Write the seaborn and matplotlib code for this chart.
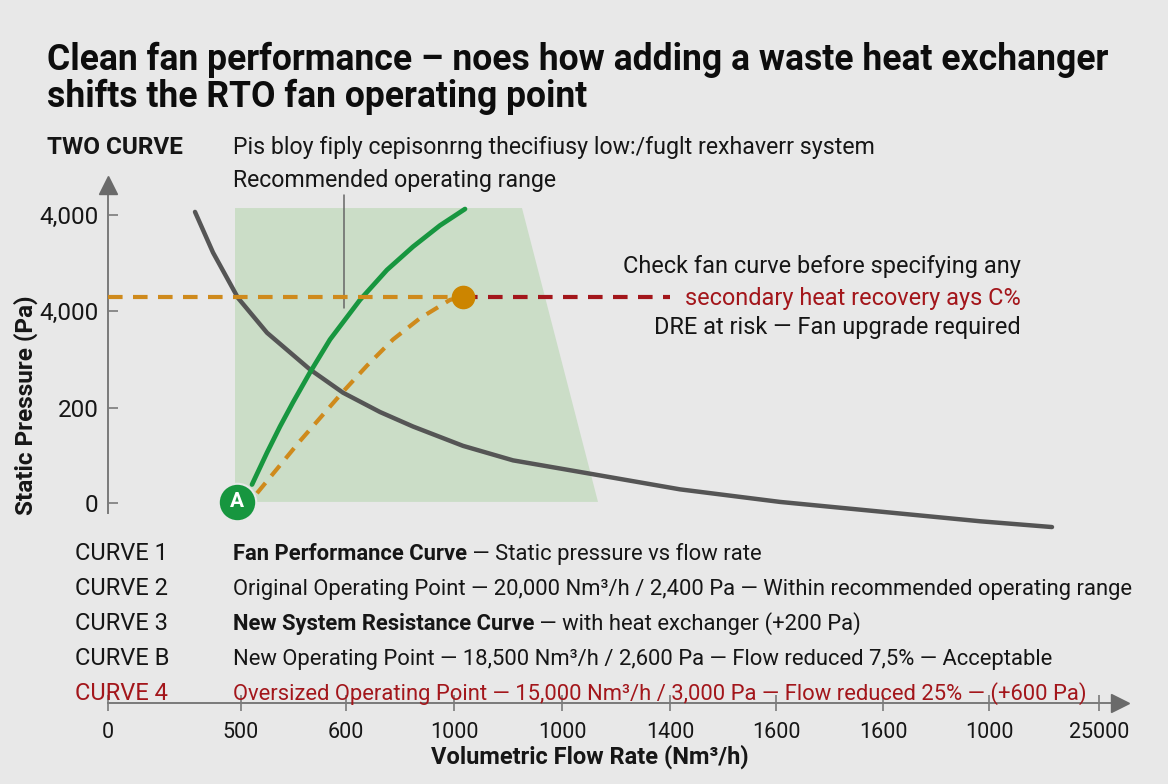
import matplotlib
matplotlib.use("Agg")
import matplotlib.pyplot as plt
import seaborn as sns
import numpy as np

# ---------------- data ----------------
x_tick_pos = [0, 1.33, 2.38, 3.46, 4.54, 5.62, 6.68, 7.75, 8.81, 9.91]
x_tick_labels = ["0", "500", "600", "1000", "1000", "1400", "1600", "1600", "1000", "25000"]
y_tick_pos = [0, 0.98, 1.99, 2.98]
y_tick_labels = ["0", "200", "4,000", "4,000"]

fan_x = [0.87, 1.05, 1.30, 1.59, 2.02, 2.35, 2.72, 3.05, 3.55, 4.05, 4.72, 5.22,
         5.72, 6.72, 7.72, 8.72, 9.44]
fan_y = [3.01, 2.59, 2.12, 1.76, 1.38, 1.14, 0.94, 0.79, 0.59, 0.44, 0.32, 0.23,
         0.14, 0.01, -0.09, -0.19, -0.25]

sys_x = [1.44, 1.59, 1.72, 1.85, 2.02, 2.22, 2.52, 2.79, 3.05, 3.32, 3.57]
sys_y = [0.19, 0.52, 0.79, 1.04, 1.35, 1.69, 2.10, 2.41, 2.65, 2.87, 3.04]

new_x = [1.49, 1.92, 2.35, 2.59, 2.85, 3.12, 3.42, 3.55]
new_y = [0.10, 0.64, 1.15, 1.42, 1.69, 1.91, 2.10, 2.13]

level_y = 2.13
orange_span = [0, 3.55]
red_span = [3.55, 5.62]
op_point = (3.55, 2.13)
a_point = (1.29, 0.01)

range_x = [1.27, 4.14, 4.90, 1.27]
range_y = [3.05, 3.05, 0.01, 0.01]
pointer_x = 2.36
pointer_y = [3.19, 2.02]

title_lines = ["Clean fan performance \u2013 noes how adding a waste heat exchanger",
               "shifts the RTO fan operating point"]
legend_keys = ["CURVE 1", "CURVE 2", "CURVE 3", "CURVE B", "CURVE 4"]
legend_bold = ["Fan Performance Curve", "", "New System Resistance Curve", "", ""]
legend_rest = [
    " \u2014 Static pressure vs flow rate",
    "Original Operating Point \u2014 20,000 Nm\u00b3/h / 2,400 Pa \u2014 Within recommended operating range",
    " \u2014 with heat exchanger (+200 Pa)",
    "New Operating Point \u2014 18,500 Nm\u00b3/h / 2,600 Pa \u2014 Flow reduced 7,5% \u2014 Acceptable",
    "Oversized Operating Point \u2014 15,000 Nm\u00b3/h / 3,000 Pa \u2014 Flow reduced 25% \u2014 (+600 Pa)",
]
legend_red = [False, False, False, False, True]

# ---------------- style ----------------
BG = "#e8e8e8"
GREEN = "#17963f"
ORANGE = "#cf8a1c"
RED = "#a3161b"
GRAY = "#555555"
SHADE = "#c8dcc4"
TXT = "#161616"

sns.set_theme(style="white")
FAM = ["Roboto", "DejaVu Sans"]
plt.rcParams["font.family"] = FAM
plt.rcParams["axes.unicode_minus"] = False

W, H = 1168, 784
fig = plt.figure(figsize=(W / 100, H / 100), dpi=100, facecolor=BG)
ax = fig.add_axes([108 / W, (H - 703) / H, 1020 / W, 523 / H])
ax.set_facecolor(BG)
ax.set_xlim(0, 10.20)
ax.set_ylim(-2.07, 3.34)

# shaded recommended range
ax.fill(range_x, range_y, color=SHADE, alpha=0.9, lw=0, zorder=1)
ax.plot([pointer_x, pointer_x], pointer_y, color="#666666", lw=1.1, zorder=2)

# curves
sns.lineplot(x=fan_x, y=fan_y, sort=False, estimator=None, color=GRAY, lw=3.2,
             ax=ax, zorder=3, solid_capstyle="round", solid_joinstyle="round")
sns.lineplot(x=sys_x, y=sys_y, sort=False, estimator=None, color=GREEN, lw=3.4,
             ax=ax, zorder=4, solid_capstyle="round", solid_joinstyle="round")
sns.lineplot(x=new_x, y=new_y, sort=False, estimator=None, color=ORANGE, lw=3.0,
             ax=ax, zorder=4, linestyle=(0, (3.2, 2.2)))
sns.lineplot(x=orange_span, y=[level_y, level_y], color=ORANGE, lw=3.0, ax=ax,
             zorder=4, linestyle=(0, (3.5, 2.5)))
sns.lineplot(x=red_span, y=[level_y, level_y], color=RED, lw=3.0, ax=ax,
             zorder=4, linestyle=(0, (3.5, 2.5)))

ax.plot(*op_point, marker="o", ms=16, color="#cc8500", mec="#cc8500", zorder=6)
ax.plot(*a_point, marker="o", ms=27, color=GREEN, mec="#e8e8e8", mew=1.5, zorder=6, clip_on=False)
ax.text(*a_point, "A", color="white", ha="center", va="center", fontsize=15,
        fontweight="bold", zorder=7)

# axes styling
for s in ["top", "right"]:
    ax.spines[s].set_visible(False)
ax.spines["left"].set_bounds(-0.1, 3.24)
ax.spines["left"].set_color("#7a7a7a")
ax.spines["left"].set_linewidth(1.4)
ax.spines["bottom"].set_bounds(0, 10.08)
ax.spines["bottom"].set_color("#7a7a7a")
ax.spines["bottom"].set_linewidth(1.4)
ax.plot(0, 3.29, marker="^", ms=13, color="#6a6a6a", clip_on=False, zorder=8)
ax.plot(10.12, -2.07, marker=">", ms=13, color="#6a6a6a", clip_on=False, zorder=8)

ax.set_xticks(x_tick_pos)
ax.set_xticklabels(x_tick_labels)
ax.set_yticks(y_tick_pos)
ax.set_yticklabels(y_tick_labels)
ax.tick_params(axis="y", direction="in", length=7, width=1.2, color="#7a7a7a",
               pad=7, labelsize=17.5, labelcolor=TXT, left=True)
ax.tick_params(axis="x", direction="inout", length=11, width=1.2, color="#7a7a7a",
               pad=8, labelsize=15.5, labelcolor=TXT, bottom=True)

ax.set_ylabel("Static Pressure (Pa)", fontsize=17.5, fontweight="bold", color=TXT)
ax.yaxis.set_label_coords(-0.0686, 0.57)
ax.set_xlabel("Volumetric Flow Rate (Nm\u00b3/h)", fontsize=17, fontweight="bold", color=TXT)
ax.xaxis.set_label_coords(0.4725, -0.080)


def ftext(px, py, s, **kw):
    kw.setdefault("va", "baseline")
    return fig.text(px / W, 1 - py / H, s, **kw)


# title and header texts
ftext(47, 70, title_lines[0], fontsize=25.6, fontweight="bold", color="#0d0d0d")
ftext(47, 107, title_lines[1], fontsize=25.6, fontweight="bold", color="#0d0d0d")
ftext(47, 154, "TWO CURVE", fontsize=17.5, fontweight="bold", color=TXT)
ftext(233, 154, "Pis bloy fiply cepisonrng thecifiusy low:/fuglt rexhaverr system",
      fontsize=16.7, color=TXT)
ftext(233, 187, "Recommended operating range", fontsize=16.7, color=TXT)

ftext(1021, 273, "Check fan curve before specifying any", fontsize=16.9, color=TXT, ha="right")
ftext(1021, 305, "secondary heat recovery ays C%", fontsize=16.9, color=RED, ha="right")
ftext(1021, 334, "DRE at risk \u2014 Fan upgrade required", fontsize=16.9, color=TXT, ha="right")

# legend block
fig.canvas.draw()
renderer = fig.canvas.get_renderer()
for i, key in enumerate(legend_keys):
    base = 560 + 35 * i
    col = RED if legend_red[i] else TXT
    ftext(75, base, key, fontsize=17, color=col)
    xstart = 233
    if legend_bold[i]:
        t = ftext(xstart, base, legend_bold[i], fontsize=15.85, color=col, fontweight="bold")
        bb = t.get_window_extent(renderer=renderer)
        xstart = bb.x1
    ftext(xstart, base, legend_rest[i], fontsize=15.85, color=col)

fig.savefig("out.png", dpi=100, facecolor=BG)
